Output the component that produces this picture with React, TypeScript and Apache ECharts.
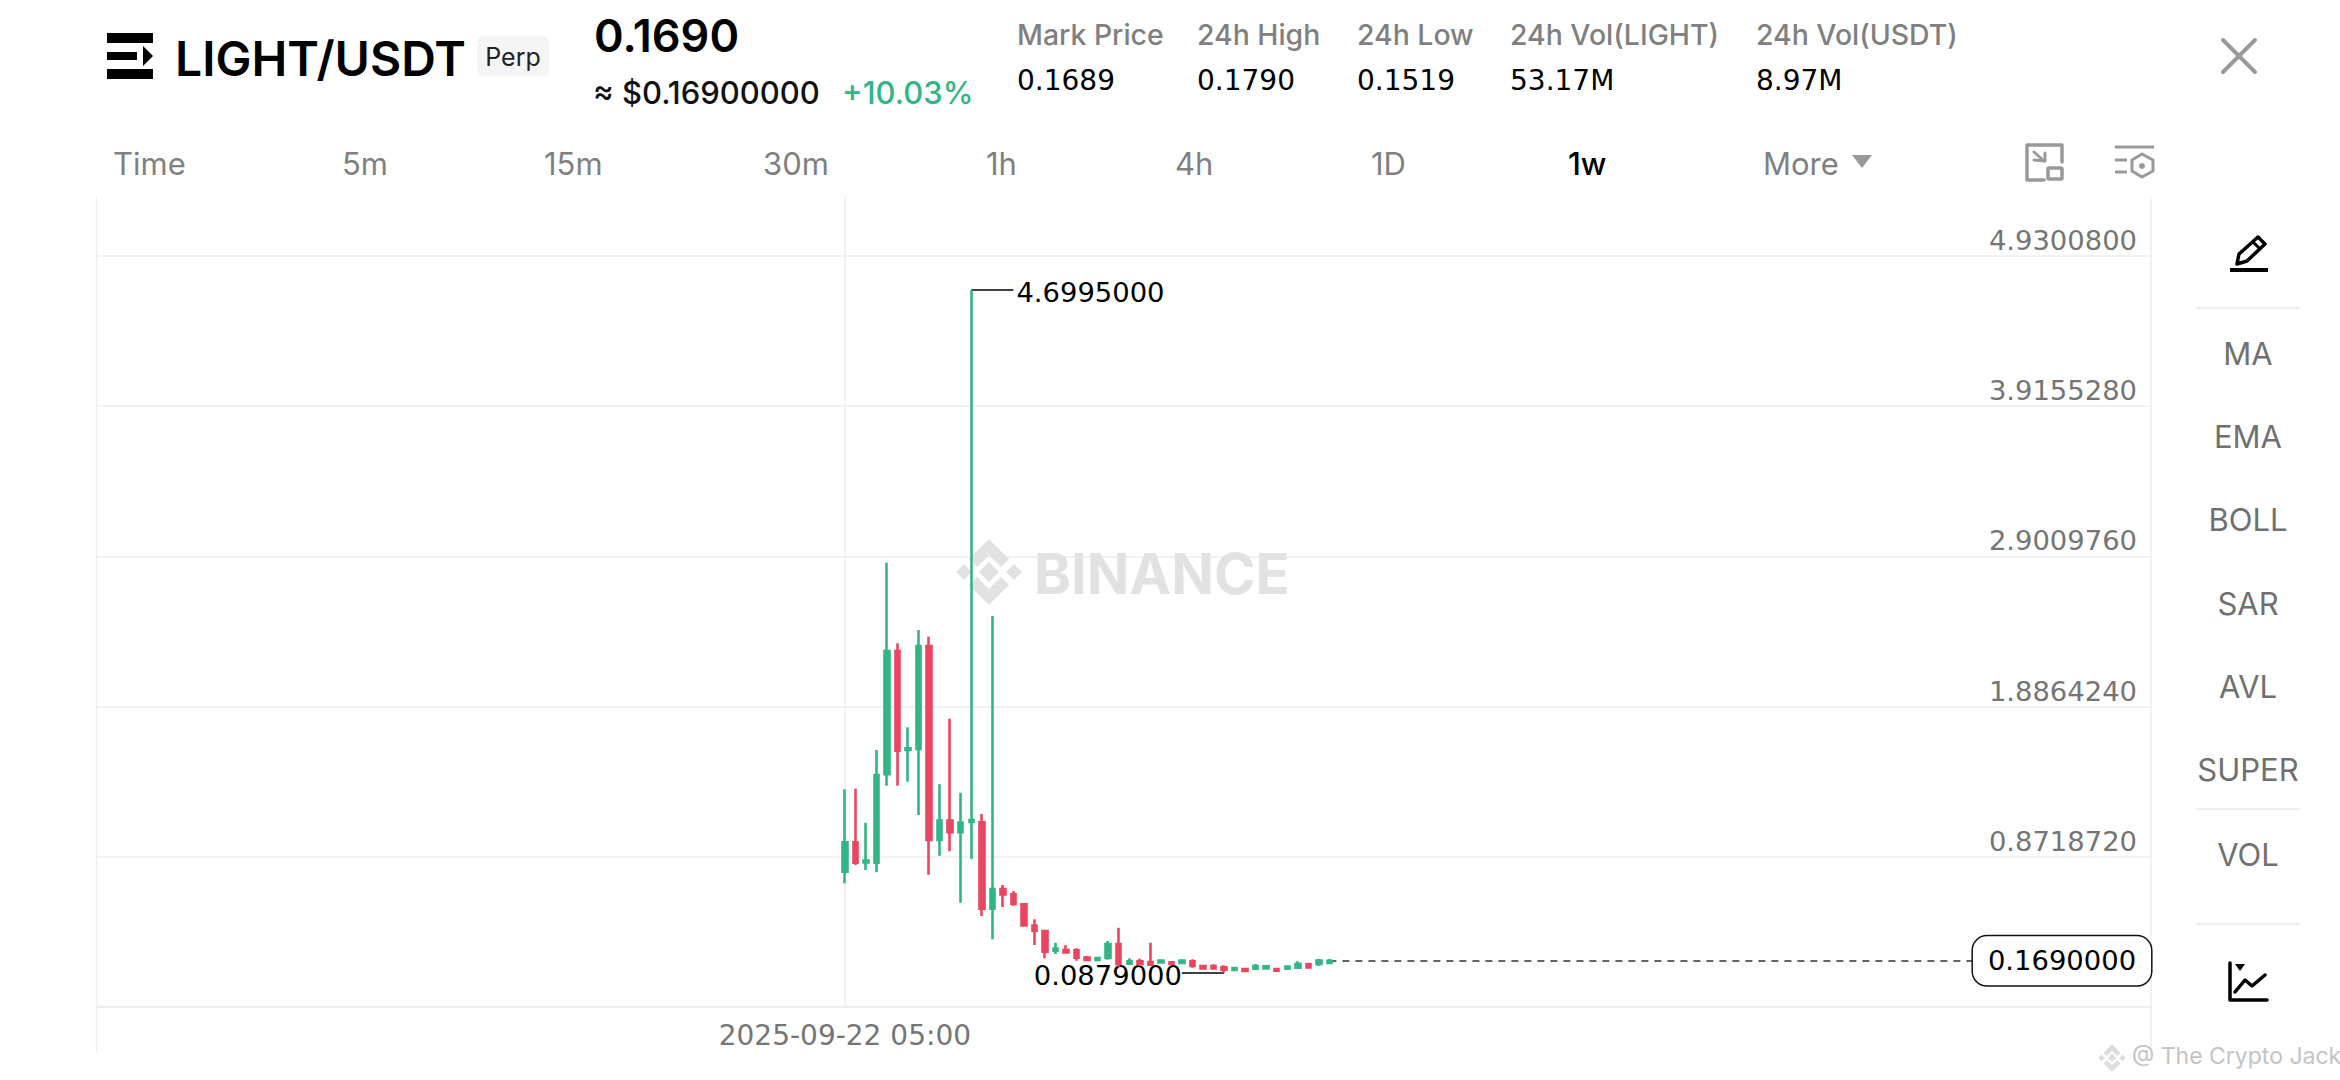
import React, { useEffect, useRef } from "react";
import * as echarts from "echarts";

const opens = [0.7715,0.9696,0.8345,0.8323,1.429,2.2621,1.5933,1.6001,2.2959,0.9854,1.116,1.0372,1.107,1.1047,0.5215,0.6544,0.6184,0.5508,0.4067,0.3707,0.2378,0.2423,0.2401,0.1906,0.1748,0.1883,0.2829,0.15,0.1658,0.1613,0.159,0.159,0.1545,0.1658,0.1343,0.1343,0.1253,0.1072,0.114,0.1162,0.1185,0.114,0.1162,0.123,0.1455,0.1478,0.1545];
const closes = [0.9696,0.8323,0.8458,1.4244,2.2621,1.5888,1.6046,2.2959,0.9854,1.116,1.0372,1.1025,1.1205,0.5215,0.6544,0.6184,0.5531,0.409,0.3729,0.2311,0.2513,0.2266,0.1906,0.1748,0.1883,0.2829,0.1478,0.1658,0.1478,0.1433,0.1703,0.1478,0.1703,0.1343,0.1185,0.1185,0.1095,0.1207,0.1005,0.1343,0.132,0.1027,0.1298,0.1478,0.1253,0.1703,0.169];
const lows = [0.6927,0.8165,0.7827,0.767,1.3524,1.3524,1.3794,1.1542,0.7512,0.8795,0.9088,0.562,0.857,0.472,0.3144,0.5328,0.5418,0.4,0.2761,0.186,0.2153,0.2243,0.1703,0.1703,0.1703,0.177,0.1298,0.1478,0.1343,0.1388,0.1545,0.1455,0.15,0.123,0.114,0.114,0.0879,0.1027,0.096,0.1117,0.1162,0.0982,0.114,0.1185,0.1162,0.1343,0.15];
const highs = [1.3276,1.3321,1.1025,1.5933,2.8588,2.3139,1.7464,2.4039,2.3589,1.3614,1.805,1.3051,4.6995,1.161,2.4985,0.6814,0.6386,0.5531,0.4495,0.3774,0.2919,0.2739,0.2536,0.2018,0.1951,0.3031,0.3932,0.186,0.1838,0.2919,0.1748,0.1635,0.1793,0.1793,0.141,0.1455,0.1388,0.1253,0.123,0.1478,0.1343,0.1185,0.132,0.1658,0.1568,0.1838,0.1815];

const yGridValues = [-0.14268, 0.871872, 1.886424, 2.900976, 3.915528, 4.93008];
const yLabelValues = [0.871872, 1.886424, 2.900976, 3.915528, 4.93008];
const dateLabel = "2025-09-22 05:00";
const highLabel = "4.6995000";
const lowLabel = "0.0879000";
const lastLabel = "0.1690000";
const lastPrice = 0.169;
const highPrice = 4.6995;
const lowPrice = 0.0879;

const statNames = ["Mark Price", "24h High", "24h Low", "24h Vol(LIGHT)", "24h Vol(USDT)"];
const statValues = ["0.1689", "0.1790", "0.1519", "53.17M", "8.97M"];
const statX = [1017, 1197, 1357, 1510, 1756];
const timeframes = ["Time", "5m", "15m", "30m", "1h", "4h", "1D", "1w", "More"];
const timeframeX = [113, 342, 544, 763, 986, 1175, 1371, 1568, 1763];
const indicators = ["MA", "EMA", "BOLL", "SAR", "AVL", "SUPER", "VOL"];
const indicatorY = [353.5, 436.5, 519.5, 603.5, 686.5, 769.5, 854.5];

const FONT = "Inter";
const NUM = "DejaVu Sans";
const SLOT_COUNT = 196;
const FIRST_SLOT = 71;
const GREEN = "#33B585";
const RED = "#EA4660";
const ICON = "#999999";

const slots = Array.from({ length: SLOT_COUNT }, (_, i) => (i === FIRST_SLOT ? dateLabel : ""));
const candles = opens.map((o, i) => [FIRST_SLOT + i, o, closes[i], lows[i], highs[i]]);

function txt(text: string, x: number, y: number, fontSize: number, fill: string, fontWeight: any = 400, align = "left", z = 10, fontFamily = FONT) {
  return { type: "text", x, y, z, silent: true, style: { text, fontSize, fontFamily, fontWeight, fill, align, verticalAlign: "middle" } };
}
function ln(x1: number, y1: number, x2: number, y2: number, stroke: string, lineWidth = 2, z = 10, lineCap = "butt") {
  return { type: "line", z, silent: true, shape: { x1, y1, x2, y2 }, style: { stroke, lineWidth, lineCap } };
}
function poly(points: number[][], fill: string, z = 10) {
  return { type: "polygon", z, silent: true, shape: { points }, style: { fill } };
}
function pl(points: number[][], stroke: string, lineWidth = 4, z = 10) {
  return { type: "polyline", z, silent: true, shape: { points }, style: { stroke, lineWidth, fill: "none", lineCap: "round", lineJoin: "round" } };
}
function logo(cx: number, cy: number, s: number, fill: string, z = 1) {
  const p = (pts: number[][]) => poly(pts.map(([a, b]) => [cx + a * s, cy + b * s]), fill, z);
  return [
    p([[0, -33], [20, -13], [12, -5], [0, -17], [-12, -5], [-20, -13]]),
    p([[0, 33], [20, 13], [12, 5], [0, 17], [-12, 5], [-20, 13]]),
    p([[0, -10], [10, 0], [0, 10], [-10, 0]]),
    p([[-25, -8], [-17, 0], [-25, 8], [-33, 0]]),
    p([[25, -8], [33, 0], [25, 8], [17, 0]]),
  ];
}

function buildGraphics() {
  const els: any[] = [];
  // header logo
  els.push({ type: "rect", z: 10, silent: true, shape: { x: 107, y: 33, width: 46, height: 10 }, style: { fill: "#000" } });
  els.push({ type: "rect", z: 10, silent: true, shape: { x: 107, y: 69, width: 46, height: 10 }, style: { fill: "#000" } });
  els.push({ type: "rect", z: 10, silent: true, shape: { x: 107, y: 52, width: 30, height: 8 }, style: { fill: "#000" } });
  els.push(poly([[143, 46], [153, 56], [143, 66]], "#000"));
  els.push(txt("LIGHT/USDT", 175, 58, 48, "#000", 600));
  els.push({ type: "rect", z: 10, silent: true, shape: { x: 477, y: 36, width: 72, height: 40, r: 6 }, style: { fill: "#f5f5f5" } });
  els.push(txt("Perp", 513, 57, 25, "#222", 400, "center"));
  els.push(txt("0.1690", 594, 35, 45, "#000", 600));
  els.push(txt("≈ $0.16900000", 593, 92, 31, "#111", 500));
  els.push(txt("+10.03%", 842, 92, 31, GREEN, 500));
  statNames.forEach((n, i) => {
    els.push(txt(n, statX[i], 34, 28.4, "#808080", 500));
    els.push(txt(statValues[i], statX[i], 80, 28, "#000", 400, "left", 10, NUM));
  });
  timeframes.forEach((t, i) => {
    els.push(txt(t, timeframeX[i], 163, 31, t === "1w" ? "#000" : "#808080", t === "1w" ? 500 : 400));
  });
  els.push(poly([[1852, 155], [1872, 155], [1862, 168]], ICON));
  // resize icon
  els.push(pl([[2062, 162], [2062, 145], [2027, 145], [2027, 180], [2044, 180]], ICON, 3.5));
  els.push({ type: "rect", z: 10, silent: true, shape: { x: 2048, y: 168, width: 14, height: 11, r: 1 }, style: { stroke: ICON, lineWidth: 3.5, fill: "none" } });
  els.push(pl([[2034, 152], [2044, 161]], ICON, 3));
  els.push(pl([[2034, 160], [2045, 161], [2045, 153]], ICON, 3));
  // settings icon
  els.push(ln(2115, 147, 2154, 147, ICON, 3));
  els.push(ln(2115, 160, 2127, 160, ICON, 3));
  els.push(ln(2115, 172, 2127, 172, ICON, 3));
  els.push(pl([[2142, 154], [2153, 160], [2153, 171], [2142, 177], [2132, 171], [2132, 160], [2142, 154]], ICON, 3));
  els.push({ type: "circle", z: 10, silent: true, shape: { cx: 2142, cy: 166, r: 3 }, style: { fill: ICON } });
  // close
  els.push(ln(2223, 40, 2255, 72, ICON, 4, 10, "round"));
  els.push(ln(2255, 40, 2223, 72, ICON, 4, 10, "round"));
  // pencil
  els.push(pl([[2237, 264], [2239, 254], [2258, 237], [2265, 244], [2247, 261], [2237, 264]], "#000", 3.5));
  els.push(ln(2253, 242, 2260, 249, "#000", 3));
  els.push(ln(2230, 270, 2268, 270, "#000", 4));
  // right panel
  els.push(ln(2196, 308, 2300, 308, "#eeeeee", 2));
  els.push(ln(2196, 809, 2300, 809, "#eeeeee", 2));
  els.push(ln(2196, 924, 2300, 924, "#eeeeee", 2));
  indicators.forEach((t, i) => els.push(txt(t, 2248, indicatorY[i], 31, "#707070", 400, "center")));
  // chart icon
  els.push(pl([[2230, 963], [2230, 1000], [2267, 1000]], "#000", 3.5));
  els.push(pl([[2235, 992], [2245, 980], [2252, 986], [2265, 975]], "#000", 3.5));
  els.push(poly([[2235, 964], [2245, 964], [2240, 971]], "#000"));
  // plot frame
  els.push(ln(96.5, 197, 96.5, 1052, "#eeeeee", 1.5, 0));
  els.push(ln(2151, 197, 2151, 1052, "#eeeeee", 1.5, 0));
  // BINANCE watermark
  logo(989, 572, 1, "#e2e2e2", 1).forEach((e) => els.push(e));
  els.push(txt("BINANCE", 1034, 574, 56, "#e2e2e2", 700, "left", 1));
  // bottom-right watermark
  logo(2112, 1058, 0.42, "#dddddd", 1).forEach((e) => els.push(e));
  els.push(txt("@ The Crypto Jack", 2132, 1056, 23, "#c4c4c4", 400, "left", 1));
  return els;
}

export default function App() {
  const ref = useRef<HTMLDivElement>(null);
  useEffect(() => {
    document.body.style.margin = "0";
    const chart = echarts.init(ref.current!, undefined, { renderer: "svg" });
    const markLabel = { color: "#000", fontFamily: NUM, fontSize: 27.4, fontWeight: 400 };
    chart.setOption({
      animation: false,
      backgroundColor: "#ffffff",
      grid: { left: 97, right: 189, top: 197, bottom: 73, containLabel: false },
      xAxis: {
        type: "category",
        data: slots,
        boundaryGap: false,
        axisLine: { show: true, onZero: false, lineStyle: { color: "#eeeeee", width: 2 } },
        axisTick: { show: false },
        axisLabel: {
          interval: (i: number) => i === FIRST_SLOT,
          color: "#757575",
          fontFamily: NUM,
          fontSize: 28,
          margin: 14,
        },
        splitLine: { show: true, interval: (i: number) => i === FIRST_SLOT, lineStyle: { color: "#eeeeee", width: 1.5 } },
      },
      yAxis: {
        type: "value",
        position: "right",
        min: -0.14268,
        max: 5.3286,
        axisLine: { show: false },
        axisTick: { show: false, customValues: yGridValues },
        axisLabel: {
          inside: true,
          customValues: yLabelValues,
          formatter: (v: number) => v.toFixed(7),
          color: "#757575",
          fontFamily: NUM,
          fontSize: 27.4,
          margin: 14,
          verticalAlign: "bottom",
          padding: [0, 0, 2, 0],
        },
        splitLine: { show: true, lineStyle: { color: "#eeeeee", width: 1.5 } },
      },
      graphic: { elements: buildGraphics() },
      series: [
        {
          type: "candlestick",
          z: 5,
          barWidth: 5,
          data: candles,
          encode: { x: 0, y: [1, 2, 3, 4] },
          itemStyle: { color: GREEN, color0: RED, borderColor: GREEN, borderColor0: RED, borderWidth: 2.6 },
          markLine: {
            silent: true,
            symbol: ["none", "none"],
            animation: false,
            data: [
              [
                { coord: [FIRST_SLOT + 12, highPrice], lineStyle: { color: "#000", width: 1.5, type: "solid" }, label: { ...markLabel, show: true, position: "end", distance: 3, offset: [0, 2], formatter: highLabel } },
                { coord: [FIRST_SLOT + 16, highPrice] },
              ],
              [
                { coord: [FIRST_SLOT + 36, lowPrice], lineStyle: { color: "#000", width: 1.5, type: "solid" }, label: { ...markLabel, show: true, position: "end", distance: 0, offset: [0, 3], formatter: lowLabel } },
                { coord: [FIRST_SLOT + 32, lowPrice] },
              ],
              [
                { coord: [FIRST_SLOT + 46, lastPrice], lineStyle: { color: "#333", width: 1.5, type: [7, 6] }, label: { ...markLabel, show: true, position: "end", distance: 1, formatter: lastLabel, backgroundColor: "#fff", borderColor: "#111", borderWidth: 1.5, borderRadius: 14, padding: [11, 15, 11, 15] } },
                { coord: [178, lastPrice] },
              ],
            ],
          },
        },
      ],
    });
    return () => chart.dispose();
  }, []);
  return <div ref={ref} style={{ position: "absolute", left: 0, top: 0, width: 2340, height: 1080 }} />;
}
